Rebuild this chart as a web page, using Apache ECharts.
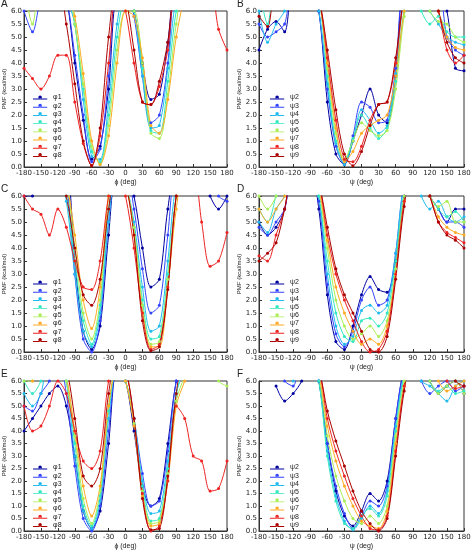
<!DOCTYPE html><html><head><meta charset="utf-8"><script src="https://cdn.jsdelivr.net/npm/echarts@6/dist/echarts.min.js"></script>
<style>body{margin:0}#c{width:474px;height:551px}</style></head><body><div id="c"></div><script>
const angles=[-180,-165,-150,-135,-120,-105,-90,-75,-60,-45,-30,-15,0,15,30,45,60,75,90,105,120,135,150,165,180];
const xTicks=[-180,-150,-120,-90,-60,-30,0,30,60,90,120,150,180];
const phiNames=['φ1','φ2','φ3','φ4','φ5','φ6','φ7','φ8'];
const psiNames=['ψ2','ψ3','ψ4','ψ5','ψ6','ψ7','ψ8','ψ9'];
const colors=['#0000a0','#3344ff','#22bbee','#33e8c0','#aaee55','#ffaa22','#ee2222','#aa0000'];
const panelA=[
[7,7,7,7,7,6.5,4.0,1.8,0.3,0.8,3.0,6.5,6.5,6,4,2.6,2.8,4.8,7,7,7,7,7,7,7],
[6,5.2,6.5,7,7,6.5,4.3,2.0,0.2,0.7,3.5,7,7,5.8,3.5,1.7,2.0,4.0,7,7,7,7,7,7,7],
[7,7,7,7,7,6.5,5.5,2.6,0.4,0.3,2.5,5.5,7,6,3.5,1.5,1.6,3.8,6.5,7,7,7,7,7,7],
[7,7,7,7,7,7,5.5,3.0,0.6,0.2,2.0,5.0,6.5,6,3.8,1.4,1.3,3.3,6,7,7,7,7,7,7],
[7,5.5,7,7,7,7,5.5,3.2,0.8,0.1,1.6,4.5,6,6,4,1.3,1.1,2.8,5.5,7,7,7,7,7,7],
[7,7,7,7,7,7,5.8,3.6,1.0,0.1,1.2,4.0,6,5.8,4.2,1.6,1.3,2.6,5.0,6.5,7,7,7,7,7],
[3.8,3.4,3.0,3.5,4.3,4.3,2.5,0.9,0.05,1.2,4.0,7,6,4,2.5,2.4,3.1,4.5,7,7,7,7,7,5.3,4.5],
[7,7,7,7,7,5.5,3.2,1.0,0.05,1.5,5.0,7,6.5,4.5,2.5,2.4,3.3,4.8,7,7,7,7,7,7,7]];
const panelB=[
[4.5,5.3,5.6,5.2,7,7,7,6,2.5,0.5,0.1,1.0,2.0,3.0,2.0,1.7,3.5,7,7,7,7,7,6,3.8,3.7],
[5.5,5.0,5.2,5.5,7,7,7,6,3.0,0.8,0.1,1.2,2.5,2.3,1.7,1.8,3.8,7,7,7,7,7,5,4.5,4.3],
[6,4.8,5.5,6,7,7,7,6,3.2,0.9,0.1,1.0,2.2,1.8,1.3,1.6,3.6,6.5,7,7,6,5.5,5,4.8,4.7],
[7,5.5,7,7,7,7,7,6.5,3.5,1.0,0.2,1.1,2.0,1.5,1.1,1.5,3.3,6,7,6,5.5,5.8,5.2,5.0,5.0],
[7,7,7,7,7,7,7,6.5,3.8,1.3,0.3,1.0,1.7,1.4,1.2,1.4,3.0,5.8,7,7,6,5.6,5.5,5.0,4.8],
[7,7,7,7,7,7,7,6.5,4.0,1.5,0.2,0.6,1.3,1.6,1.8,2.0,3.5,6,7,7,7,6,5,4.6,4.5],
[7,7,7,7,7,7,7,6.5,4.2,1.8,0.3,0.2,0.8,1.8,2.4,2.5,4.0,6.5,7,7,7,6,4.5,4.0,4.3],
[5.8,5.4,7,7,7,7,7,6.5,4.5,2.2,0.5,0.05,0.6,1.6,2.4,2.5,4.2,6.5,7,7,7,6,4.8,4.2,4.0]];
const panelC=[
[6,6,7,7,7,7,3.5,0.8,0.1,1.0,4.5,7,7,6,4,2.5,2.8,5.5,7,7,7,7,6,5.5,6],
[7,7,7,7,7,6.5,3.0,0.5,0.0,1.2,5,7,7,5.5,3.2,1.5,1.8,4.5,7,7,7,7,7,6,5.8],
[7,7,7,7,7,5.8,3.0,0.8,0.2,1.5,5,7,6.5,5,2.5,0.8,1.0,3.5,6.5,7,7,7,7,7,7],
[7,7,7,7,7,6,3.5,1.2,0.3,1.8,5.5,7,6.5,4.8,2.0,0.5,0.6,3.0,6,7,7,7,7,7,7],
[7,7,7,7,7,6.5,4.0,1.5,0.5,2,6,7,6.5,4.8,1.8,0.3,0.4,2.8,6,7,7,7,7,7,7],
[7,7,7,7,7,6.5,4.5,2.0,0.9,2.5,6,7,6.5,4.5,1.5,0.2,0.2,2.5,5.5,7,7,7,7,7,7],
[6,5.5,5.3,4.5,5.5,4.8,3.5,2.5,2.4,3.5,6,7,6,4,1.5,0.1,0.3,2.5,6,7,7,5,3.3,3.5,4.6],
[7,7,7,7,7,6,4.0,2.2,1.8,2.8,5.5,7,6.5,4.5,1.2,0.05,0.2,2.4,6,7,7,7,7,7,7]];
const panelD=[
[5,4.5,4.8,5.5,7,7,7,5.5,2.2,0.4,0.1,1.0,2.2,2.9,2.4,2.3,3.5,6,7,7,6,5.5,5,5.5,5.5],
[4.8,4.5,5,5.5,7,7,7,5.8,2.6,0.7,0.2,0.8,2.0,2.5,1.8,2.0,3.8,6.5,7,7,6,5.5,5,5,4.8],
[5,4.6,5.5,6,7,7,7,6,3.0,1.0,0.3,0.6,1.6,1.8,1.5,1.8,3.8,6.5,7,6,5.5,5.8,5.2,5,5.2],
[5.5,5,6,7,7,7,7,6,3.5,1.5,0.6,0.4,1.2,1.3,1.0,1.5,3.5,6.2,7,7,6,5.5,5.2,5.4,5],
[6,5.5,6,7,7,7,7,6.2,4.0,2.0,1.0,0.5,0.7,1.0,0.6,1.2,3.2,6,7,7,6,5.6,5.8,5,5],
[5.5,5,5.5,6,7,7,7,6.3,4.3,2.5,1.5,0.8,0.3,0.5,0.3,1.0,3.0,5.8,7,7,6,5.2,4.8,4.6,4.5],
[3.7,3.5,4.5,5.5,7,7,7,6.5,4.5,3.0,2.0,1.2,0.4,0.0,0.1,0.8,3.0,5.8,7,7,6,5,4.6,4.4,4.2],
[3.5,3.8,4.2,5.5,7,7,7,6.5,4.8,3.2,2.2,1.5,0.8,0.1,0.0,0.6,2.8,5.6,7,7,6,5,4.5,4.3,4.0]];
const panelE=[
[4.0,4.5,5,5.5,5.8,5.0,3.0,0.8,0.1,0.8,3.5,6.5,6,4,1.8,1.0,1.3,3.5,6,7,7,7,7,7,7],
[5,4.8,5.5,6,7,5.5,2.6,0.5,0.0,1.0,4,6.5,6,4.5,2.3,1.0,1.2,3.2,6,7,7,7,7,7,7],
[5.5,5,5.5,7,7,6,3.0,0.8,0.1,1.2,4.5,6.5,6,4.5,2.0,0.7,0.8,2.8,5.5,6.5,7,7,7,7,7],
[6,5.5,6,7,7,6,3.5,1.0,0.2,1.4,4.8,6.5,6,4.5,1.8,0.4,0.5,2.5,5.5,6.5,7,7,7,7,7],
[6,6,7,7,7,6,3.8,1.3,0.3,1.6,5,6.5,6,4.3,1.6,0.3,0.4,2.3,5.2,6.2,7,7,7,6,5.8],
[7,6,7,7,7,6.2,4.0,1.8,0.6,1.8,5,6.5,6,4.2,1.4,0.2,0.3,2.0,5,6,7,7,7,7,7],
[5,4,4.2,5,6,5.5,4.0,2.8,2.5,3.2,6,7,6.5,4.5,1.5,0.0,0.2,2.0,5,4.5,3.0,2.8,1.6,1.7,2.8],
[7,7,7,7,7,6.5,4.5,2.2,1.8,2.5,5.5,7,6.5,4.5,1.3,0.05,0.1,2.2,5.5,7,7,7,7,7,7]];
const panelF=[
[null,null,5.8,5.2,5.5,6,7,6,3.5,1.6,0.6,0.2,0.8,1.5,1.2,2.0,4.5,6.5,7,7,6,5.5,5.8,6,5.5],
[null,null,7,6,5.8,7,7,6,3.5,1.8,0.7,0.1,0.6,1.2,1.0,1.8,4.5,6.5,7,6,5.5,5.8,6,5.6,5.8],
[null,null,7,7,6,7,7,6,3.2,1.4,0.4,0.05,0.5,1.0,0.7,1.6,4.2,6.3,7,6,5.8,5.5,5.2,5.8,6],
[null,null,7,7,7,7,7,6,3.0,1.2,0.3,0.1,0.6,0.9,0.6,1.4,4.0,6.2,7,7,6,5.6,5.8,5.5,5.6],
[null,null,7,7,7,7,7,6.2,3.8,2.2,1.2,0.5,0.3,0.6,0.3,1.0,3.8,6,7,7,6,5.5,5.8,6,5.5],
[null,null,7,7,7,7,7,6.3,4.2,2.8,1.8,1.0,0.4,0.2,0.1,0.8,3.5,5.8,7,7,7,6,5.6,5.8,6],
[null,null,7,7,7,7,7,6.5,4.5,3.2,2.2,1.3,0.6,0.1,0.05,0.6,3.2,5.8,7,7,7,7,6,5.7,5.8],
[null,null,7,7,7,7,7,6.5,4.8,3.6,2.6,1.6,0.8,0.3,0.0,0.5,3.0,5.6,7,7,7,7,7,6,5.8]];
const panels=[[panelA,phiNames,'ϕ (deg)','A'],[panelB,psiNames,'ψ (deg)','B'],[panelC,phiNames,'ϕ (deg)','C'],[panelD,psiNames,'ψ (deg)','D'],[panelE,phiNames,'ϕ (deg)','E'],[panelF,psiNames,'ψ (deg)','F']];
const lefts=[22,259],tops=[11,196,381],W=205,H=156;
const grid=[],xAxis=[],yAxis=[],series=[],legend=[],graphic=[];
const lab={fontSize:7,color:'#222',fontFamily:'DejaVu Sans'};
panels.forEach((p,i)=>{
  const L=lefts[i%2],T=tops[Math.floor(i/2)];
  grid.push({left:L,top:T,width:W,height:H,show:true,borderColor:'#333',borderWidth:1});
  xAxis.push({type:'value',gridIndex:i,min:-180,max:180,interval:30,name:p[2],nameLocation:'middle',nameGap:12,nameTextStyle:{fontSize:7,color:'#222'},axisLabel:{...lab,margin:3},axisLine:{onZero:false,lineStyle:{color:'#333'}},axisTick:{inside:true,length:3},splitLine:{show:false}});
  yAxis.push({type:'value',gridIndex:i,min:0,max:6,interval:0.5,name:'PMF (kcal/mol)',nameLocation:'middle',nameGap:14,nameTextStyle:{fontSize:6,color:'#222'},axisLabel:{...lab,margin:2,formatter:v=>v.toFixed(1)},axisLine:{show:true,onZero:false,lineStyle:{color:'#333'}},axisTick:{inside:true,length:3},splitLine:{show:false}});
  p[0].forEach((vals,k)=>{
    series.push({type:'line',name:p[1][k],xAxisIndex:i,yAxisIndex:i,data:angles.map((a,j)=>[a,vals[j]]),smooth:0.3,symbol:'circle',symbolSize:3,color:colors[k],lineStyle:{width:1},clip:true,connectNulls:false,animation:false});
  });
  legend.push({data:p[1],orient:'vertical',left:L+6,top:T+H-78,itemWidth:16,itemHeight:4,itemGap:1.2,textStyle:{fontSize:7,color:'#222'},icon:'path://M0,2L16,2L16,3L0,3Z M6,0.5 a2,2 0 1,0 4,0 a2,2 0 1,0 -4,0'});
  graphic.push({type:'text',left:L-21+(i%2?-1:0),top:T-12,style:{text:p[3],fontSize:10,fill:'#222'}});
});
const chart=echarts.init(document.getElementById('c'));
chart.setOption({backgroundColor:'#fff',animation:false,grid,xAxis,yAxis,series,legend,graphic});
</script></body></html>
